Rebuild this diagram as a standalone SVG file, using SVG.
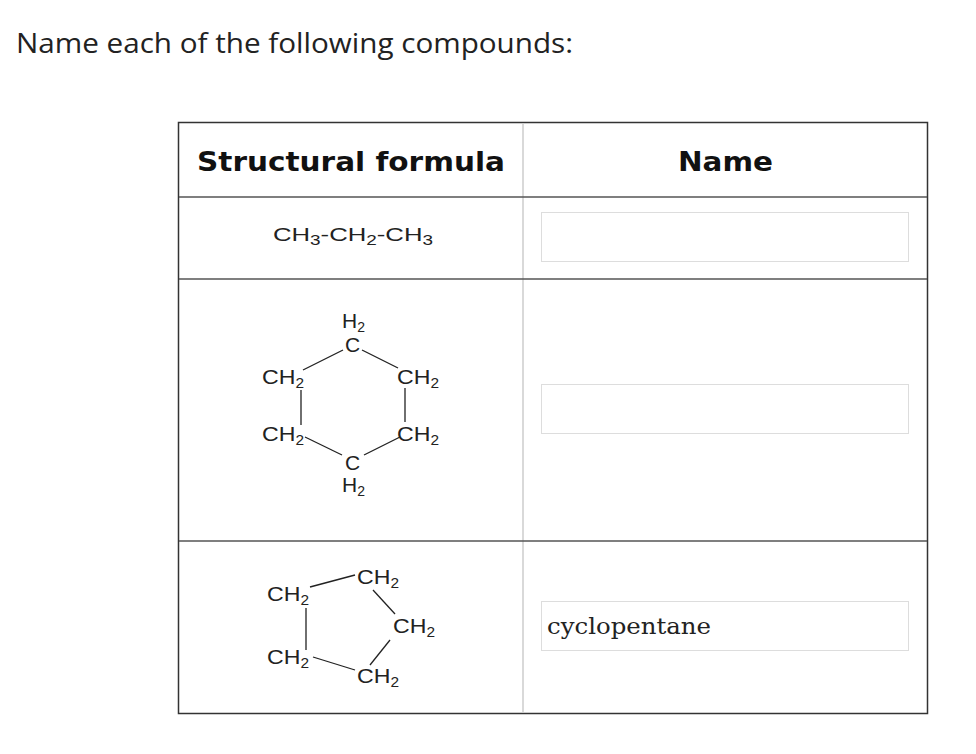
<svg xmlns="http://www.w3.org/2000/svg" width="976" height="754" viewBox="0 0 976 754">
<style>
.t{font-family:"Open Sans","Noto Sans",sans-serif;font-size:28px;fill:#222}
.h{font-family:"DejaVu Sans",sans-serif;font-weight:bold;font-size:26px;fill:#111}
.c{font-family:"Liberation Sans",Arial,sans-serif;font-size:21px;fill:#222}
.s{font-size:14px}
.b{stroke:#222;stroke-width:1.3;fill:none}
.in{fill:#fff;stroke:#ddd;stroke-width:1}
</style>
<rect width="976" height="754" fill="#fff"/>
<text class="t" x="16" y="53" textLength="557" lengthAdjust="spacingAndGlyphs">Name each of the following compounds:</text>
<g id="table">
<rect x="178.5" y="122.5" width="749" height="591" fill="none" stroke="#333" stroke-width="1.5"/>
<line x1="523" y1="123" x2="523" y2="713" stroke="#ccc" stroke-width="1.5"/>
<line x1="179" y1="197" x2="927" y2="197" stroke="#555" stroke-width="1.5"/>
<line x1="179" y1="279" x2="927" y2="279" stroke="#555" stroke-width="1.5"/>
<line x1="179" y1="541" x2="927" y2="541" stroke="#555" stroke-width="1.5"/>
<text class="h" x="197" y="171" textLength="308" lengthAdjust="spacingAndGlyphs">Structural formula</text>
<text class="h" x="678" y="171" textLength="95" lengthAdjust="spacingAndGlyphs">Name</text>
</g>
<g id="propane">
<text class="c" x="273" y="241" style="font-size:19px" textLength="160" lengthAdjust="spacingAndGlyphs">CH<tspan class="s" dy="4">3</tspan><tspan dy="-4">-CH</tspan><tspan class="s" dy="4">2</tspan><tspan dy="-4">-CH</tspan><tspan class="s" dy="4">3</tspan></text>
<rect class="in" x="541.5" y="212.5" width="367" height="49"/>
</g>
<g id="cyclohexane">
<text class="c" x="342" y="328">H<tspan class="s" dy="4">2</tspan></text>
<text class="c" x="345" y="352">C</text>
<text class="c" x="262" y="384" textLength="42" lengthAdjust="spacingAndGlyphs">CH<tspan class="s" dy="4">2</tspan></text>
<text class="c" x="397" y="384" textLength="42" lengthAdjust="spacingAndGlyphs">CH<tspan class="s" dy="4">2</tspan></text>
<text class="c" x="262" y="441" textLength="42" lengthAdjust="spacingAndGlyphs">CH<tspan class="s" dy="4">2</tspan></text>
<text class="c" x="397" y="441" textLength="42" lengthAdjust="spacingAndGlyphs">CH<tspan class="s" dy="4">2</tspan></text>
<text class="c" x="345" y="470">C</text>
<text class="c" x="342" y="492">H<tspan class="s" dy="4">2</tspan></text>
<rect class="in" x="541.5" y="384.5" width="367" height="49"/>
</g>
<g id="cyclopentane">
<text class="c" x="357" y="584" textLength="42" lengthAdjust="spacingAndGlyphs">CH<tspan class="s" dy="4">2</tspan></text>
<text class="c" x="267" y="601" textLength="42" lengthAdjust="spacingAndGlyphs">CH<tspan class="s" dy="4">2</tspan></text>
<text class="c" x="393" y="633" textLength="42" lengthAdjust="spacingAndGlyphs">CH<tspan class="s" dy="4">2</tspan></text>
<text class="c" x="267" y="664" textLength="42" lengthAdjust="spacingAndGlyphs">CH<tspan class="s" dy="4">2</tspan></text>
<text class="c" x="357" y="683" textLength="42" lengthAdjust="spacingAndGlyphs">CH<tspan class="s" dy="4">2</tspan></text>
<rect class="in" x="541.5" y="601.5" width="367" height="49"/>
<text x="547" y="634" style="font-family:'DejaVu Serif','Liberation Serif',serif;font-size:23px;fill:#222" textLength="164" lengthAdjust="spacingAndGlyphs">cyclopentane</text>
</g>
<g id="bonds">
<line class="b" x1="303" y1="370" x2="343" y2="350"/>
<line class="b" x1="362" y1="350" x2="398" y2="368"/>
<line class="b" x1="301" y1="390" x2="301" y2="425"/>
<line class="b" x1="405" y1="388" x2="405" y2="422"/>
<line class="b" x1="305" y1="437" x2="342" y2="455"/>
<line class="b" x1="364" y1="455" x2="400" y2="437"/>
<line class="b" x1="310" y1="587" x2="355" y2="575"/>
<line class="b" x1="306" y1="608" x2="306" y2="650"/>
<line class="b" x1="313" y1="657" x2="355" y2="670"/>
<line class="b" x1="373" y1="590" x2="395" y2="614"/>
<line class="b" x1="390" y1="640" x2="370" y2="665"/>
</g>
</svg>
